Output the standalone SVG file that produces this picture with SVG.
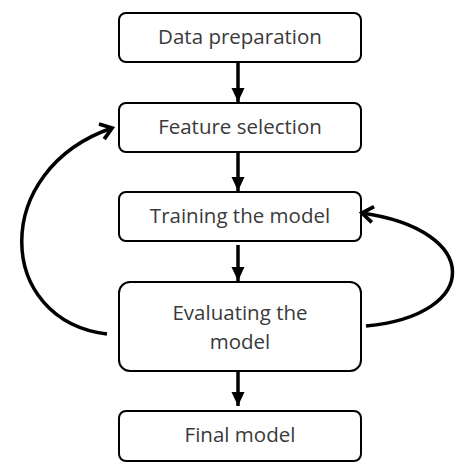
<svg xmlns="http://www.w3.org/2000/svg" width="474" height="474" viewBox="0 0 474 474">
<defs>
<style>
.box{fill:#fff;stroke:#000;stroke-width:2}
.t{font-family:"Open Sans","Liberation Sans",sans-serif;font-size:20.5px;fill:#3a3a3a;text-anchor:middle}
.ln{fill:none;stroke:#000;stroke-width:3.5}
.cv{fill:none;stroke:#000;stroke-width:3.5}
</style>
<marker id="tri" viewBox="-15 -7 16 14" refX="0" refY="0" markerWidth="16" markerHeight="14" orient="auto" markerUnits="userSpaceOnUse">
<path d="M-14 -6.5L0 0L-14 6.5z" fill="#000"/>
</marker>
<marker id="vee" viewBox="-15 -10 18 20" refX="0" refY="0" markerWidth="18" markerHeight="20" orient="auto" markerUnits="userSpaceOnUse">
<path d="M-11 -8L0 0L-11 8" fill="none" stroke="#000" stroke-width="3.8" stroke-linejoin="miter"/>
</marker>
</defs>
<rect width="474" height="474" fill="#fff"/>
<g id="n1"><rect class="box" x="119" y="13" width="242" height="49" rx="7"/><text class="t" x="240" y="44">Data preparation</text></g>
<g id="n2"><rect class="box" x="119" y="103" width="242" height="49" rx="7"/><text class="t" x="240" y="134">Feature selection</text></g>
<g id="n3"><rect class="box" x="119" y="192" width="242" height="49" rx="7"/><text class="t" x="240" y="223">Training the model</text></g>
<g id="n4"><rect class="box" x="119" y="282" width="242" height="89" rx="11"/><text class="t" x="240" y="320">Evaluating the</text><text class="t" x="240" y="349">model</text></g>
<g id="n5"><rect class="box" x="119" y="411" width="242" height="50" rx="7"/><text class="t" x="240" y="442">Final model</text></g>
<g id="connectors">
<line class="ln" x1="238" y1="63" x2="238" y2="102" marker-end="url(#tri)"/>
<line class="ln" x1="238" y1="153" x2="238" y2="191" marker-end="url(#tri)"/>
<line class="ln" x1="238" y1="245" x2="238" y2="281" marker-end="url(#tri)"/>
<line class="ln" x1="238" y1="372" x2="238" y2="406" marker-end="url(#tri)"/>
<path class="cv" d="M107 334C-5 320-10 170 112 128" marker-end="url(#vee)"/>
<path class="cv" d="M366 326C482 315 482 230 362 213" marker-end="url(#vee)"/>
</g>
</svg>
